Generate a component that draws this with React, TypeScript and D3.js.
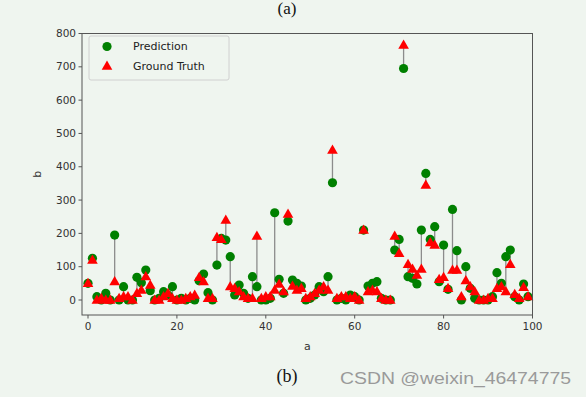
import React from 'react';
import { scaleLinear, range } from 'd3';

const xs = range(0, 100);

const prediction = [
  50, 125, 10, 0, 20, 0, 195, 0, 40, 0,
  0, 68, 52, 90, 28, 0, 5, 25, 15, 40,
  0, 5, 0, 5, 0, 58, 78, 22, 0, 105,
  185, 180, 130, 15, 45, 20, 5, 70, 40, 0,
  0, 5, 262, 62, 20, 237, 60, 50, 42, 0,
  5, 15, 40, 25, 70, 352, 0, 5, 0, 15,
  10, 0, 210, 42, 50, 55, 5, 0, 0, 150,
  182, 695, 70, 65, 48, 210, 380, 182, 220, 55,
  165, 32, 272, 148, 0, 100, 35, 5, 0, 0,
  0, 10, 82, 50, 130, 150, 10, 0, 48, 10,
];

const groundTruth = [
  50, 120, 0, 5, 0, 0, 55, 5, 10, 10,
  0, 20, 30, 70, 45, 0, 0, 10, 20, 5,
  0, 0, 5, 10, 15, 68, 55, 5, 5, 188,
  182, 240, 40, 35, 25, 10, 5, 5, 192, 5,
  10, 10, 30, 48, 25, 258, 42, 30, 35, 5,
  10, 20, 30, 40, 30, 450, 5, 10, 10, 5,
  10, 0, 210, 25, 30, 25, 5, 0, 0, 192,
  140, 765, 107, 93, 75, 93, 345, 172, 165, 62,
  68, 35, 90, 90, 10, 58, 40, 25, 0, 0,
  5, 5, 35, 40, 25, 107, 17, 5, 38, 10,
];

const xTicks = [0, 20, 40, 60, 80, 100];
const yTicks = [0, 100, 200, 300, 400, 500, 600, 700, 800];

const BG = '#eff5ef';
const FONT = 'DejaVu Sans, sans-serif';
const GREEN = '#008000';
const RED = '#ff0000';

const tri = (cx: number, cy: number, r: number) =>
  `M${cx},${cy - r}L${cx + r * 0.95},${cy + r * 0.65}L${cx - r * 0.95},${cy + r * 0.65}Z`;

export default function App() {
  const width = 586;
  const height = 397;
  const left = 82, right = 532.5, top = 33.5, bottom = 315;

  const x = scaleLinear().domain([-1.35, 100]).range([left, right]);
  const y = scaleLinear().domain([-45, 800]).range([bottom, top]);

  return (
    <svg width={width} height={height} style={{ position: 'fixed', left: 0, top: 0, background: BG }}>
      <rect width={width} height={height} fill={BG} />
      <text x={287} y={14} textAnchor="middle" fontFamily="Liberation Serif, serif" fontSize={17} fill="#111">(a)</text>

      {/* connectors */}
      {xs.map(i => (
        <line key={'l' + i} x1={x(i)} x2={x(i)} y1={y(prediction[i])} y2={y(groundTruth[i])}
          stroke="#8c8c8c" strokeWidth={1.3} />
      ))}
      {xs.map(i => (
        <circle key={'p' + i} cx={x(i)} cy={y(prediction[i])} r={4.6} fill={GREEN} />
      ))}
      {xs.map(i => (
        <path key={'g' + i} d={tri(x(i), y(groundTruth[i]), 5.6)} fill={RED} />
      ))}

      {/* frame */}
      <rect x={left} y={top} width={right - left} height={bottom - top} fill="none" stroke="#555" strokeWidth={1} />

      {/* y axis */}
      {yTicks.map(t => (
        <g key={'y' + t}>
          <line x1={left - 3.5} x2={left} y1={y(t)} y2={y(t)} stroke="#555" />
          <text x={left - 6} y={y(t)} dy="0.35em" textAnchor="end" fontFamily={FONT} fontSize={10.5} fill="#333">{t}</text>
        </g>
      ))}
      <text transform={`translate(37,${(top + bottom) / 2}) rotate(-90)`} dy="0.35em" textAnchor="middle" fontFamily={FONT} fontSize={11} fill="#333">b</text>

      {/* x axis */}
      {xTicks.map(t => (
        <g key={'x' + t}>
          <line x1={x(t)} x2={x(t)} y1={bottom} y2={bottom + 3.5} stroke="#555" />
          <text x={x(t)} y={bottom + 15} textAnchor="middle" fontFamily={FONT} fontSize={10.5} fill="#333">{t}</text>
        </g>
      ))}
      <text x={(left + right) / 2} y={bottom + 35} textAnchor="middle" fontFamily={FONT} fontSize={11} fill="#333">a</text>

      {/* legend */}
      <rect x={89} y={36} width={140} height={44} rx={2} fill={BG} stroke="#d0d0d0" />
      <circle cx={107} cy={46.5} r={4.6} fill={GREEN} />
      <text x={133} y={46.5} dy="0.35em" fontFamily={FONT} fontSize={11} fill="#222">Prediction</text>
      <path d={tri(107, 66, 5.6)} fill={RED} />
      <text x={133} y={66} dy="0.35em" fontFamily={FONT} fontSize={11} fill="#222">Ground Truth</text>

      <text x={287} y={382} textAnchor="middle" fontFamily="Liberation Serif, serif" fontSize={18} fill="#111">(b)</text>
      <text x={340} y={384} textLength={231} lengthAdjust="spacingAndGlyphs" fontFamily="Liberation Sans, sans-serif" fontSize={16} fill="#9a9a9a">CSDN @weixin_46474775</text>
    </svg>
  );
}
